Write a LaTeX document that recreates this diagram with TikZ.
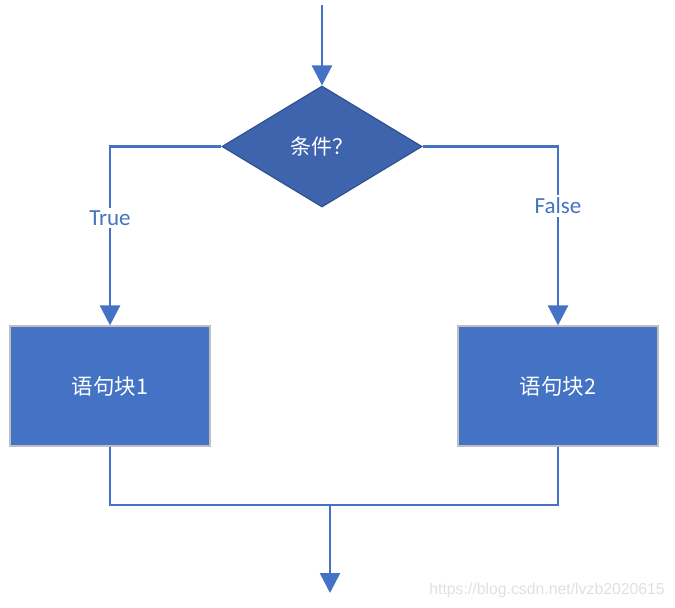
\documentclass[tikz,border=0pt]{standalone}
\usepackage{fontspec}
\setmainfont{Carlito}
\newfontfamily\cjk{Noto Sans CJK SC}
\newfontfamily\wmfont{Liberation Sans}
\usetikzlibrary{shapes.geometric,arrows.meta}
\definecolor{lineblue}{HTML}{4472C4}
\definecolor{boxblue}{HTML}{4472C4}
\definecolor{diafill}{HTML}{3E64AE}
\definecolor{diaborder}{HTML}{2F528F}
\definecolor{boxborder}{HTML}{BFBFBF}
\tikzset{
  conn/.style={draw=lineblue, line width=2.6pt},
  arr/.style={conn, -{Triangle[width=20pt,length=20pt]}},
  stmtbox/.style={rectangle, fill=boxblue, draw=boxborder, line width=1.2pt,
    minimum width=200pt, minimum height=120pt, inner sep=0pt,
    text=white, font=\cjk\fontsize{21.5}{25}\selectfont},
  decide/.style={diamond, aspect=1.65, fill=diafill, draw=diaborder, line width=1.2pt,
    minimum width=200pt, minimum height=121pt, inner sep=0pt,
    text=white, font=\cjk\fontsize{21}{24}\selectfont},
  lbl/.style={fill=white, text=lineblue, inner sep=3pt, font=\fontsize{23}{26}\selectfont}
}
\begin{document}
\begin{tikzpicture}[x=1pt,y=-1pt]
\useasboundingbox (0,0) rectangle (675,608);
\node[decide] (d) at (322,146.5) {条件？};
\node[stmtbox] (b1) at (110,386) {语句块1};
\node[stmtbox] (b2) at (558,386) {语句块2};
\coordinate (start) at (322,5);
\coordinate (jl) at (110,505);
\coordinate (jr) at (558,505);
\coordinate (jm) at (330,505);
\coordinate (end) at (330,593);
\draw[arr] (start) -- (d.north);
\draw[arr] (d.west) -| (b1.north);
\draw[arr] (d.east) -| (b2.north);
\draw[conn] (b1.south) -- (jl) -- (jr) -- (b2.south);
\draw[arr] (jm) -- (end);
\node[lbl] (t) at (110,218) {True};
\node[lbl] (f) at (558,206) {False};
\node[text=black!12, font=\wmfont\fontsize{15.8}{18}\selectfont, anchor=east, inner sep=0pt] (wm) at (665,590) {https://blog.csdn.net/lvzb2020615};
\end{tikzpicture}
\end{document}
